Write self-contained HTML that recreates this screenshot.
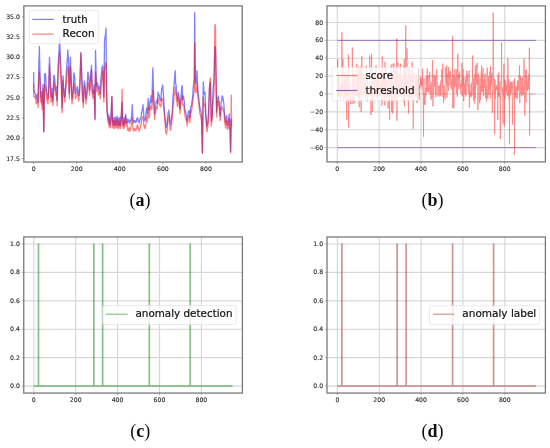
<!DOCTYPE html>
<html><head><meta charset="utf-8"><style>
html,body{margin:0;padding:0;background:#fff;width:550px;height:448px;overflow:hidden}
svg{display:block}
.tk{font-family:"DejaVu Sans","Liberation Sans",sans-serif;font-size:6.2px;fill:#1e1e1e;stroke:#1e1e1e;stroke-width:0.12px}
.lg{font-family:"DejaVu Sans","Liberation Sans",sans-serif;fill:#111;stroke:#111;stroke-width:0.2px}
.cap{font-family:"Liberation Serif","DejaVu Serif",serif;font-size:18px;fill:#111}
</style></head><body>
<svg width="550" height="448" viewBox="0 0 550 448">
<rect width="550" height="448" fill="#fff"/>
<g style="filter:opacity(0.5)"><polyline points="33.60,72.10 33.70,77.72 33.80,85.39 33.90,91.80 34.40,91.93 34.90,93.37 35.40,93.60 35.70,95.82 36.00,95.57 36.30,98.90 36.70,95.38 37.10,96.58 37.50,93.60 37.67,95.70 37.83,98.58 38.00,102.50 38.30,88.80 38.60,75.10 38.90,61.40 39.07,58.18 39.23,51.29 39.40,46.40 39.53,54.41 39.67,59.91 39.80,66.80 40.10,76.90 40.40,87.00 40.70,97.10 41.00,95.83 41.30,92.31 41.60,91.80 41.77,96.45 41.93,101.46 42.10,104.30 42.37,97.82 42.63,92.04 42.90,84.60 43.20,100.33 43.50,116.07 43.80,131.80 44.07,112.50 44.33,93.20 44.60,73.90 44.97,75.12 45.33,73.53 45.70,75.70 45.93,82.00 46.17,86.76 46.40,91.80 46.90,93.45 47.40,94.84 47.90,98.90 48.18,96.05 48.47,90.47 48.75,86.40 49.00,76.70 49.25,67.00 49.50,57.30 49.73,64.22 49.97,70.93 50.20,75.70 50.50,83.60 50.80,91.48 51.10,97.10 51.33,93.76 51.57,92.25 51.80,88.20 52.17,92.17 52.53,98.10 52.90,100.70 53.18,92.37 53.47,84.03 53.75,75.70 54.00,77.66 54.25,75.45 54.50,77.50 54.80,80.36 55.10,84.81 55.40,90.00 55.68,90.48 55.97,87.37 56.25,86.40 56.53,91.62 56.82,95.22 57.10,100.70 57.47,89.40 57.83,78.10 58.20,66.80 58.67,57.03 59.13,47.27 59.60,37.50 59.87,44.33 60.13,50.69 60.40,57.90 60.68,63.30 60.97,70.07 61.25,75.70 61.53,86.43 61.82,97.17 62.10,107.90 62.40,97.17 62.70,86.43 63.00,75.70 63.30,80.77 63.60,86.69 63.90,90.00 64.20,93.02 64.50,96.28 64.80,97.10 65.10,94.22 65.40,90.53 65.70,84.60 66.00,79.88 66.30,72.72 66.60,68.60 67.00,63.70 67.40,57.87 67.80,50.00 68.00,54.09 68.20,55.52 68.40,57.90 68.70,69.80 69.00,81.70 69.30,93.60 69.67,81.50 70.03,69.40 70.40,57.30 70.63,64.20 70.87,68.53 71.10,75.70 71.40,84.63 71.70,91.43 72.00,98.90 72.30,96.36 72.60,93.80 72.90,93.60 73.18,88.31 73.47,82.23 73.75,73.90 74.03,73.02 74.32,76.18 74.60,75.70 74.90,81.34 75.20,86.38 75.50,93.60 76.10,90.46 76.70,89.77 77.30,86.40 77.60,90.14 77.90,89.56 78.20,93.60 78.43,94.61 78.67,93.16 78.90,95.40 79.20,92.59 79.50,87.59 79.80,84.60 80.17,73.87 80.53,63.13 80.90,52.40 81.13,58.57 81.37,63.73 81.60,66.80 81.90,75.73 82.20,84.67 82.50,93.60 82.80,96.59 83.10,101.33 83.40,102.50 83.68,94.65 83.97,86.64 84.25,81.00 84.53,83.16 84.82,82.91 85.10,86.40 85.40,89.51 85.70,94.47 86.00,99.00 86.30,97.00 86.60,92.96 86.90,91.80 87.20,83.59 87.50,79.99 87.80,72.10 88.10,72.63 88.40,76.15 88.70,75.70 89.00,81.89 89.30,84.79 89.60,90.00 89.90,85.09 90.20,80.54 90.50,75.70 90.83,72.82 91.17,69.24 91.50,65.50 91.77,73.88 92.03,82.27 92.30,90.00 92.60,92.79 92.90,92.43 93.20,93.60 93.50,90.35 93.80,88.39 94.10,84.60 94.40,96.33 94.70,108.07 95.00,119.80 95.17,96.70 95.33,73.60 95.50,50.50 95.73,58.90 95.97,67.30 96.20,75.70 96.38,78.32 96.57,82.12 96.75,86.40 97.03,86.95 97.32,84.14 97.60,82.90 97.90,85.44 98.20,85.87 98.50,90.00 98.80,88.49 99.10,87.89 99.40,86.40 99.70,87.07 100.00,91.62 100.30,93.60 100.60,88.11 100.90,80.08 101.20,75.70 101.50,73.19 101.80,69.65 102.10,66.80 102.30,67.31 102.50,66.00 102.70,66.40 102.80,70.25 102.90,73.46 103.00,75.70 103.30,81.11 103.60,88.38 103.90,97.10 104.10,78.40 104.30,59.70 104.50,41.00 105.00,37.37 105.50,34.13 106.00,28.20 106.10,39.87 106.20,51.53 106.30,63.20 106.40,70.04 106.50,78.51 106.60,86.40 106.80,94.93 107.00,103.47 107.20,112.00 107.30,112.67 107.40,112.02 107.50,113.00 107.70,114.84 107.90,116.99 108.10,120.00 108.27,117.70 108.43,116.68 108.60,114.50 108.80,116.95 109.00,120.39 109.20,124.00 109.40,122.65 109.60,117.63 109.80,117.00 110.00,119.92 110.20,123.18 110.40,125.00 110.60,121.15 110.80,117.67 111.00,115.50 111.30,110.33 111.60,102.03 111.90,96.70 112.07,103.01 112.23,111.33 112.40,119.00 112.60,121.71 112.80,121.57 113.00,125.00 113.23,121.86 113.47,119.40 113.70,117.50 113.90,121.37 114.10,122.61 114.30,125.50 114.50,124.28 114.70,119.31 114.90,118.00 115.13,119.75 115.37,123.21 115.60,125.00 115.80,123.55 116.00,119.16 116.20,116.50 116.40,118.01 116.60,120.14 116.80,124.00 117.03,121.77 117.27,118.22 117.50,117.00 117.70,121.10 117.90,124.22 118.10,126.00 118.30,122.36 118.50,120.20 118.70,118.50 118.90,121.77 119.10,123.34 119.30,125.00 119.53,123.44 119.77,119.11 120.00,117.00 120.20,118.50 120.40,121.92 120.60,125.50 120.83,123.06 121.07,117.68 121.30,115.00 121.57,110.18 121.83,106.17 122.10,102.20 122.27,107.84 122.43,113.74 122.60,120.00 122.80,123.35 123.00,122.43 123.20,125.50 123.43,121.22 123.67,122.10 123.90,118.00 124.10,121.70 124.30,124.42 124.50,125.00 124.70,122.10 124.90,121.29 125.10,117.00 125.33,117.71 125.57,114.33 125.80,114.50 126.00,118.22 126.20,121.38 126.40,123.00 126.57,122.25 126.73,120.40 126.90,119.00 127.20,119.41 127.50,120.76 127.80,122.50 128.10,120.92 128.40,119.75 128.70,120.70 129.00,121.62 129.30,121.13 129.60,122.50 129.90,123.32 130.20,120.26 130.50,121.60 130.80,121.55 131.10,119.30 131.40,117.10 131.68,114.46 131.97,110.19 132.25,104.60 132.53,111.41 132.82,115.61 133.10,120.70 133.40,119.55 133.70,122.78 134.00,122.50 134.30,120.72 134.60,120.58 134.90,120.70 135.20,121.89 135.50,121.99 135.80,122.50 136.10,121.02 136.40,121.75 136.70,119.00 137.00,119.07 137.30,117.76 137.60,118.00 137.90,118.01 138.20,121.10 138.50,120.70 138.80,121.22 139.10,122.92 139.40,122.50 139.70,120.80 140.00,119.08 140.30,119.00 140.60,117.92 140.90,117.74 141.20,115.40 141.50,112.42 141.80,112.85 142.10,110.00 142.40,109.72 142.70,107.50 143.00,104.60 143.30,109.93 143.60,111.16 143.90,117.10 144.18,118.76 144.47,120.81 144.75,120.70 145.03,118.51 145.32,118.74 145.60,119.00 145.90,114.57 146.20,111.90 146.50,108.20 146.80,109.72 147.10,111.70 147.40,113.60 147.70,109.53 148.00,101.67 148.30,98.40 148.60,100.66 148.90,104.79 149.20,110.00 149.50,106.28 149.80,103.71 150.10,102.90 150.40,102.21 150.70,99.38 151.00,95.70 151.30,96.61 151.60,100.51 151.90,102.90 152.20,91.27 152.50,79.63 152.80,68.00 153.10,77.23 153.40,86.47 153.70,95.70 154.00,101.00 154.30,106.97 154.60,113.60 154.90,110.66 155.20,109.33 155.50,106.40 155.80,104.95 156.10,102.37 156.40,101.10 156.68,100.59 156.97,101.68 157.25,102.90 157.53,97.95 157.82,95.90 158.10,92.10 158.40,94.08 158.70,94.07 159.00,95.70 159.30,95.39 159.60,96.94 159.90,99.30 160.20,99.44 160.50,100.88 160.80,101.10 161.10,97.95 161.40,92.34 161.70,88.60 162.00,88.48 162.30,86.64 162.60,85.00 162.90,88.32 163.20,91.67 163.50,95.70 163.80,100.45 164.10,105.96 164.40,110.00 164.70,113.28 165.00,117.83 165.30,120.70 165.60,122.96 165.90,124.58 166.20,127.90 166.50,126.83 166.80,126.20 167.10,124.30 167.40,119.19 167.70,116.90 168.00,113.60 168.30,112.13 168.60,112.57 168.90,110.00 169.18,114.54 169.47,115.48 169.75,118.90 170.03,122.13 170.32,123.55 170.60,124.30 170.90,121.64 171.20,120.57 171.50,118.90 171.80,114.58 172.10,114.09 172.40,110.00 172.57,106.55 172.73,103.33 172.90,97.90 173.20,95.35 173.50,91.30 173.80,87.10 174.27,82.47 174.73,76.40 175.20,70.70 175.33,73.54 175.47,79.55 175.60,83.50 175.90,84.12 176.20,87.02 176.50,90.70 176.80,95.25 177.10,96.19 177.40,101.40 177.68,96.96 177.97,94.02 178.25,92.50 178.53,95.67 178.82,94.94 179.10,97.90 179.40,99.75 179.70,106.26 180.00,108.60 180.30,103.67 180.60,102.70 180.90,97.90 181.20,94.64 181.50,91.34 181.80,86.25 181.93,87.76 182.07,86.30 182.20,85.90 182.37,91.54 182.53,93.36 182.70,99.60 183.00,99.36 183.30,97.24 183.60,96.00 183.90,99.77 184.20,100.58 184.50,105.00 184.80,108.26 185.10,111.30 185.40,112.10 185.70,111.72 186.00,113.87 186.30,115.70 186.60,117.70 186.90,120.41 187.20,121.00 187.50,117.70 187.80,115.11 188.10,113.90 188.40,111.83 188.70,111.98 189.00,110.40 189.30,113.68 189.60,114.75 189.90,117.50 190.18,113.46 190.47,109.99 190.75,106.80 191.03,105.96 191.32,105.91 191.60,105.90 191.90,101.73 192.20,100.57 192.50,97.90 192.80,95.44 193.10,89.25 193.40,85.40 193.70,84.49 194.00,80.58 194.30,80.00 194.43,57.57 194.57,35.13 194.70,12.70 194.83,28.47 194.97,44.23 195.10,60.00 195.27,68.02 195.43,75.59 195.60,82.00 195.77,83.16 195.93,83.13 196.10,83.60 196.40,79.24 196.70,75.51 197.00,70.70 197.30,78.80 197.60,82.77 197.90,90.70 198.20,91.65 198.50,96.39 198.80,97.90 199.10,102.37 199.40,103.90 199.70,106.80 200.00,107.79 200.30,109.99 200.60,110.40 200.90,111.04 201.20,113.10 201.50,115.70 201.80,128.20 202.10,140.70 202.40,153.20 202.68,129.40 202.97,105.60 203.25,81.80 203.53,84.88 203.82,90.44 204.10,94.30 204.40,93.03 204.70,92.14 205.00,92.50 205.33,100.92 205.67,109.60 206.00,115.70 206.27,118.53 206.53,123.57 206.80,126.40 207.10,124.92 207.40,125.34 207.70,122.90 208.00,119.60 208.30,114.86 208.60,112.10 208.90,103.35 209.20,94.92 209.50,88.90 209.80,86.46 210.10,83.74 210.40,81.80 210.70,94.87 211.00,107.93 211.30,121.00 211.60,118.05 211.90,116.96 212.20,115.70 212.50,106.77 212.80,97.83 213.10,88.90 213.40,85.29 213.70,83.95 214.00,80.00 214.30,68.87 214.60,57.73 214.90,46.60 215.10,46.45 215.30,50.64 215.50,50.00 215.87,70.70 216.23,91.40 216.60,112.10 216.90,107.29 217.20,102.99 217.50,97.90 217.80,97.15 218.10,97.84 218.40,96.00 218.70,99.56 219.00,101.01 219.30,103.20 219.60,107.30 219.90,112.33 220.20,115.70 220.50,112.82 220.80,107.01 221.10,103.20 221.40,101.64 221.70,100.06 222.00,96.00 222.30,96.52 222.60,96.29 222.90,97.90 223.20,98.71 223.50,102.22 223.80,103.20 224.10,108.00 224.40,113.18 224.70,115.70 225.00,119.37 225.30,119.57 225.60,122.90 225.90,119.38 226.20,117.23 226.50,115.70 226.80,117.54 227.10,122.37 227.40,124.60 227.68,125.32 227.97,124.91 228.25,122.90 228.53,119.02 228.82,118.21 229.10,113.90 229.40,117.39 229.70,121.96 230.00,126.40 230.20,134.73 230.40,143.07 230.60,151.40 230.83,140.93 231.07,130.47 231.30,120.00 231.40,121.16 231.50,119.18 231.60,121.00" fill="none" stroke="#0000ff" stroke-width="1.3" stroke-linejoin="round"/></g>
<g style="filter:opacity(0.5)"><polyline points="33.60,83.55 33.70,87.02 33.80,90.95 33.90,96.80 34.40,97.03 34.90,96.76 35.40,98.60 35.70,98.81 36.00,101.78 36.30,103.90 36.70,103.64 37.10,101.45 37.50,98.60 37.67,102.52 37.83,103.53 38.00,107.50 38.30,97.02 38.60,86.54 38.90,76.06 39.07,74.87 39.23,72.62 39.40,72.10 39.53,73.85 39.67,76.54 39.80,80.89 40.10,86.93 40.40,96.57 40.70,102.10 41.00,101.52 41.30,99.67 41.60,96.80 41.77,102.05 41.93,104.03 42.10,109.30 42.37,102.05 42.63,96.62 42.90,89.60 43.20,103.67 43.50,117.73 43.80,131.80 44.07,115.96 44.33,100.11 44.60,84.27 44.97,86.05 45.33,87.45 45.70,87.12 45.93,91.71 46.17,92.09 46.40,96.80 46.90,99.55 47.40,102.15 47.90,103.90 48.18,99.75 48.47,94.41 48.75,91.40 49.00,82.60 49.25,73.80 49.50,65.00 49.73,71.57 49.97,76.85 50.20,84.99 50.50,92.26 50.80,97.71 51.10,102.10 51.33,99.30 51.57,95.45 51.80,93.20 52.17,98.84 52.53,101.79 52.90,105.70 53.18,99.99 53.47,92.79 53.75,84.45 54.00,83.83 54.25,82.84 54.50,82.50 54.80,87.02 55.10,90.59 55.40,95.00 55.68,92.58 55.97,91.90 56.25,91.40 56.53,97.29 56.82,99.29 57.10,105.70 57.47,93.80 57.83,81.90 58.20,70.00 58.67,62.60 59.13,58.92 59.60,52.70 59.87,58.52 60.13,66.04 60.40,72.53 60.68,76.58 60.97,80.27 61.25,84.99 61.53,94.29 61.82,103.60 62.10,112.90 62.40,102.17 62.70,91.43 63.00,80.70 63.30,87.26 63.60,89.14 63.90,95.00 64.20,97.05 64.50,98.66 64.80,102.10 65.10,98.41 65.40,92.96 65.70,89.60 66.00,85.89 66.30,84.10 66.60,80.02 67.00,74.97 67.40,71.42 67.80,66.80 68.00,70.17 68.20,69.18 68.40,72.53 68.70,81.22 69.00,89.91 69.30,98.60 69.67,87.73 70.03,76.87 70.40,66.00 70.63,69.32 70.87,74.82 71.10,80.70 71.40,89.39 71.70,96.58 72.00,103.90 72.30,101.19 72.60,99.76 72.90,98.60 73.18,92.84 73.47,89.26 73.75,84.81 74.03,83.58 74.32,86.36 74.60,86.07 74.90,91.67 75.20,96.06 75.50,98.60 76.10,97.05 76.70,95.46 77.30,91.40 77.60,92.07 77.90,95.44 78.20,98.60 78.43,100.88 78.67,100.79 78.90,100.40 79.20,96.48 79.50,94.80 79.80,89.60 80.17,77.60 80.53,65.60 80.90,53.60 81.13,62.35 81.37,71.09 81.60,79.84 81.90,86.53 82.20,93.49 82.50,98.60 82.80,100.82 83.10,103.42 83.40,107.50 83.68,100.13 83.97,91.86 84.25,86.00 84.53,87.37 84.82,91.26 85.10,91.40 85.40,94.99 85.70,98.03 86.00,104.00 86.30,99.96 86.60,98.01 86.90,96.80 87.20,93.22 87.50,87.11 87.80,83.01 88.10,82.92 88.40,82.88 88.70,84.99 89.00,90.06 89.30,91.39 89.60,95.00 89.90,90.61 90.20,86.74 90.50,84.99 90.83,78.39 91.17,73.80 91.50,70.00 91.77,78.33 92.03,86.67 92.30,95.00 92.60,96.84 92.90,96.14 93.20,98.60 93.50,93.95 93.80,92.57 94.10,89.60 94.40,99.27 94.70,108.93 95.00,118.60 95.17,103.10 95.33,87.60 95.50,72.10 95.73,75.49 95.97,82.48 96.20,84.99 96.38,85.77 96.57,89.37 96.75,91.40 97.03,91.22 97.32,88.74 97.60,87.90 97.90,92.02 98.20,92.55 98.50,95.00 98.80,92.87 99.10,92.28 99.40,91.40 99.70,92.13 100.00,95.92 100.30,98.60 100.60,91.73 100.90,88.07 101.20,80.70 101.50,80.89 101.80,78.68 102.10,77.68 102.30,74.10 102.50,73.01 102.70,72.00 102.80,73.97 102.90,76.75 103.00,80.70 103.30,86.87 103.60,96.30 103.90,102.10 104.10,91.40 104.30,80.70 104.50,70.00 105.00,66.28 105.50,63.52 106.00,62.70 106.10,70.95 106.20,76.36 106.30,82.84 106.40,90.12 106.50,93.52 106.60,99.38 106.80,106.03 107.00,110.35 107.20,115.00 107.30,116.38 107.40,116.55 107.50,116.00 107.70,118.31 107.90,119.20 108.10,123.00 108.27,120.13 108.43,120.68 108.60,117.50 108.80,122.11 109.00,125.36 109.20,127.00 109.40,124.08 109.60,122.90 109.80,120.00 110.00,123.74 110.20,125.85 110.40,128.00 110.60,125.97 110.80,121.77 111.00,118.50 111.30,111.79 111.60,104.64 111.90,96.70 112.07,105.13 112.23,113.57 112.40,122.00 112.60,123.17 112.80,127.52 113.00,128.00 113.23,127.14 113.47,121.47 113.70,120.50 113.90,124.86 114.10,127.50 114.30,128.50 114.50,126.61 114.70,121.86 114.90,121.00 115.13,124.77 115.37,124.33 115.60,128.00 115.80,126.85 116.00,122.94 116.20,119.50 116.40,120.42 116.60,123.30 116.80,127.00 117.03,125.15 117.27,122.58 117.50,120.00 117.70,123.89 117.90,127.54 118.10,129.00 118.30,125.49 118.50,122.21 118.70,121.50 118.90,125.19 119.10,124.08 119.30,128.00 119.53,126.69 119.77,121.28 120.00,120.00 120.20,123.95 120.40,126.69 120.60,128.50 120.83,126.36 121.07,121.68 121.30,118.00 121.57,108.43 121.83,98.87 122.10,89.30 122.27,100.53 122.43,111.77 122.60,123.00 122.80,126.20 123.00,125.59 123.20,128.50 123.43,126.62 123.67,122.89 123.90,121.00 124.10,124.74 124.30,126.65 124.50,128.00 124.70,125.23 124.90,122.76 125.10,120.00 125.33,117.46 125.57,116.66 125.80,117.50 126.00,120.67 126.20,123.13 126.40,126.00 126.57,125.98 126.73,123.72 126.90,122.00 127.20,123.53 127.50,127.17 127.80,130.50 128.10,130.86 128.40,129.38 128.70,128.70 129.00,127.54 129.30,131.12 129.60,130.50 129.90,131.38 130.20,128.41 130.50,129.60 130.80,128.26 131.10,126.17 131.40,125.10 131.68,123.67 131.97,119.49 132.25,117.70 132.53,120.41 132.82,124.99 133.10,128.70 133.40,130.98 133.70,128.44 134.00,130.50 134.30,128.51 134.60,129.74 134.90,128.70 135.20,130.69 135.50,129.94 135.80,130.50 136.10,129.10 136.40,129.45 136.70,127.00 137.00,127.66 137.30,124.77 137.60,126.00 137.90,128.27 138.20,126.71 138.50,128.70 138.80,128.59 139.10,131.11 139.40,130.50 139.70,129.05 140.00,129.24 140.30,127.00 140.60,124.60 140.90,125.95 141.20,123.40 141.50,120.43 141.80,118.54 142.10,118.00 142.40,117.62 142.70,116.70 143.00,116.92 143.30,119.80 143.60,123.83 143.90,125.10 144.18,127.06 144.47,125.72 144.75,128.70 145.03,127.46 145.32,127.73 145.60,127.00 145.90,123.35 146.20,120.58 146.50,116.20 146.80,117.94 147.10,118.27 147.40,121.60 147.70,115.62 148.00,112.72 148.30,106.40 148.60,109.75 148.90,115.09 149.20,118.00 149.50,116.72 149.80,112.39 150.10,108.90 150.40,108.39 150.70,106.99 151.00,105.45 151.30,105.93 151.60,109.24 151.90,108.90 152.20,102.61 152.50,98.05 152.80,90.40 153.10,93.47 153.40,99.26 153.70,101.70 154.00,108.70 154.30,114.04 154.60,119.60 154.90,116.99 155.20,113.51 155.50,112.40 155.80,111.61 156.10,108.37 156.40,107.10 156.68,108.28 156.97,106.98 157.25,108.90 157.53,103.80 157.82,100.42 158.10,98.10 158.40,100.41 158.70,99.34 159.00,101.70 159.30,104.35 159.60,103.64 159.90,105.30 160.20,106.17 160.50,105.96 160.80,107.10 161.10,104.80 161.40,100.16 161.70,98.89 162.00,98.41 162.30,100.20 162.60,98.50 162.90,99.84 163.20,104.05 163.50,105.99 163.80,108.70 164.10,111.95 164.40,116.00 164.70,117.85 165.00,121.41 165.30,126.70 165.60,130.72 165.90,132.69 166.20,133.90 166.50,133.78 166.80,132.61 167.10,130.30 167.40,128.37 167.70,121.94 168.00,119.60 168.30,118.70 168.60,117.18 168.90,116.00 169.18,119.23 169.47,123.51 169.75,124.90 170.03,127.64 170.32,130.19 170.60,130.30 170.90,127.12 171.20,127.25 171.50,124.90 171.80,122.56 172.10,119.85 172.40,116.00 172.57,113.60 172.73,111.55 172.90,107.53 173.20,104.30 173.50,104.03 173.80,99.97 174.27,95.33 174.73,91.73 175.20,87.07 175.33,90.77 175.47,92.34 175.60,93.87 175.90,93.79 176.20,94.12 176.50,95.70 176.80,98.64 177.10,103.29 177.40,106.40 177.68,105.22 177.97,101.90 178.25,97.50 178.53,98.94 178.82,100.74 179.10,102.90 179.40,107.61 179.70,109.25 180.00,113.60 180.30,109.71 180.60,104.71 180.90,102.90 181.20,99.39 181.50,98.31 181.80,95.80 181.93,96.77 182.07,96.76 182.20,96.63 182.37,98.80 182.53,103.57 182.70,104.60 183.00,105.28 183.30,103.84 183.60,105.32 183.90,105.32 184.20,110.15 184.50,110.00 184.80,114.12 185.10,116.25 185.40,117.10 185.70,118.67 186.00,118.82 186.30,120.70 186.60,121.00 186.90,123.36 187.20,126.00 187.50,122.63 187.80,122.81 188.10,118.90 188.40,119.15 188.70,117.57 189.00,115.40 189.30,116.50 189.60,119.19 189.90,122.50 190.18,118.21 190.47,116.98 190.75,111.80 191.03,110.29 191.32,112.25 191.60,110.90 191.90,108.88 192.20,105.74 192.50,102.90 192.80,102.44 193.10,97.81 193.40,96.55 193.70,94.58 194.00,91.20 194.30,90.37 194.43,74.58 194.57,58.79 194.70,43.00 194.83,54.12 194.97,65.25 195.10,76.37 195.27,80.05 195.43,84.95 195.60,91.77 195.77,91.48 195.93,91.16 196.10,92.89 196.40,88.30 196.70,88.64 197.00,83.86 197.30,87.05 197.60,93.16 197.90,95.70 198.20,98.83 198.50,101.33 198.80,102.90 199.10,106.43 199.40,110.46 199.70,111.80 200.00,114.36 200.30,114.99 200.60,115.40 200.90,117.38 201.20,119.63 201.50,120.70 201.80,131.53 202.10,142.37 202.40,153.20 202.68,134.46 202.97,115.71 203.25,96.97 203.53,100.69 203.82,102.99 204.10,105.72 204.40,105.31 204.70,103.64 205.00,104.46 205.33,111.11 205.67,115.23 206.00,120.70 206.27,122.71 206.53,126.64 206.80,131.40 207.10,131.58 207.40,128.19 207.70,127.90 208.00,123.91 208.30,121.36 208.60,117.10 208.90,106.07 209.20,95.03 209.50,84.00 209.80,83.27 210.10,79.32 210.40,77.90 210.70,93.93 211.00,109.97 211.30,126.00 211.60,123.83 211.90,122.19 212.20,120.70 212.50,112.39 212.80,108.83 213.10,100.86 213.40,96.16 213.70,96.58 214.00,91.96 214.30,69.87 214.60,47.79 214.90,25.70 215.10,24.72 215.30,25.00 215.50,26.50 215.87,56.70 216.23,86.90 216.60,117.10 216.90,113.62 217.20,108.80 217.50,102.90 217.80,101.30 218.10,101.83 218.40,101.00 218.70,103.32 219.00,106.59 219.30,108.20 219.60,111.23 219.90,117.71 220.20,120.70 220.50,118.32 220.80,113.11 221.10,108.20 221.40,109.29 221.70,108.91 222.00,106.91 222.30,106.92 222.60,109.05 222.90,108.24 223.20,110.68 223.50,111.03 223.80,111.95 224.10,113.45 224.40,118.21 224.70,120.70 225.00,124.58 225.30,124.80 225.60,127.90 225.90,126.03 226.20,124.53 226.50,120.70 226.80,124.03 227.10,124.97 227.40,129.60 227.68,129.51 227.97,127.59 228.25,127.90 228.53,126.19 228.82,122.48 229.10,118.90 229.40,122.37 229.70,128.66 230.00,131.40 230.20,139.12 230.40,145.35 230.60,153.20 230.83,133.87 231.07,114.53 231.30,95.20 231.40,105.47 231.50,115.73 231.60,126.00" fill="none" stroke="#ff0000" stroke-width="1.3" stroke-linejoin="round"/></g>
<rect x="23.85" y="5.90" width="218.35" height="156.10" fill="none" stroke="#7a7a7a" stroke-width="1.3"/>
<line x1="33.60" y1="162.00" x2="33.60" y2="164.00" stroke="#7a7a7a" stroke-width="0.6"/>
<text x="33.60" y="170.80" text-anchor="middle" class="tk">0</text>
<line x1="76.70" y1="162.00" x2="76.70" y2="164.00" stroke="#7a7a7a" stroke-width="0.6"/>
<text x="76.70" y="170.80" text-anchor="middle" class="tk">200</text>
<line x1="119.80" y1="162.00" x2="119.80" y2="164.00" stroke="#7a7a7a" stroke-width="0.6"/>
<text x="119.80" y="170.80" text-anchor="middle" class="tk">400</text>
<line x1="162.90" y1="162.00" x2="162.90" y2="164.00" stroke="#7a7a7a" stroke-width="0.6"/>
<text x="162.90" y="170.80" text-anchor="middle" class="tk">600</text>
<line x1="206.00" y1="162.00" x2="206.00" y2="164.00" stroke="#7a7a7a" stroke-width="0.6"/>
<text x="206.00" y="170.80" text-anchor="middle" class="tk">800</text>
<line x1="21.85" y1="158.58" x2="23.85" y2="158.58" stroke="#7a7a7a" stroke-width="0.6"/>
<text x="19.95" y="160.58" text-anchor="end" class="tk">17.5</text>
<line x1="21.85" y1="138.30" x2="23.85" y2="138.30" stroke="#7a7a7a" stroke-width="0.6"/>
<text x="19.95" y="140.30" text-anchor="end" class="tk">20.0</text>
<line x1="21.85" y1="118.02" x2="23.85" y2="118.02" stroke="#7a7a7a" stroke-width="0.6"/>
<text x="19.95" y="120.02" text-anchor="end" class="tk">22.5</text>
<line x1="21.85" y1="97.74" x2="23.85" y2="97.74" stroke="#7a7a7a" stroke-width="0.6"/>
<text x="19.95" y="99.74" text-anchor="end" class="tk">25.0</text>
<line x1="21.85" y1="77.46" x2="23.85" y2="77.46" stroke="#7a7a7a" stroke-width="0.6"/>
<text x="19.95" y="79.46" text-anchor="end" class="tk">27.5</text>
<line x1="21.85" y1="57.18" x2="23.85" y2="57.18" stroke="#7a7a7a" stroke-width="0.6"/>
<text x="19.95" y="59.18" text-anchor="end" class="tk">30.0</text>
<line x1="21.85" y1="36.90" x2="23.85" y2="36.90" stroke="#7a7a7a" stroke-width="0.6"/>
<text x="19.95" y="38.90" text-anchor="end" class="tk">32.5</text>
<line x1="21.85" y1="16.62" x2="23.85" y2="16.62" stroke="#7a7a7a" stroke-width="0.6"/>
<text x="19.95" y="18.62" text-anchor="end" class="tk">35.0</text>
<rect x="29.20" y="10.30" width="69.00" height="33.30" rx="1.5" fill="#ffffff" fill-opacity="0.8" stroke="#dcdcdc" stroke-width="0.6"/>
<line x1="32.30" y1="19.40" x2="53.80" y2="19.40" stroke="#0000ff" stroke-opacity="0.5" stroke-width="1.2"/>
<text x="62.60" y="22.50" class="lg" style="font-size:10.1px" textLength="25.00" lengthAdjust="spacingAndGlyphs">truth</text>
<line x1="32.30" y1="34.10" x2="53.80" y2="34.10" stroke="#ff0000" stroke-opacity="0.5" stroke-width="1.2"/>
<text x="62.60" y="37.30" class="lg" style="font-size:10.1px" textLength="32.00" lengthAdjust="spacingAndGlyphs">Recon</text>
<line x1="337.30" y1="5.90" x2="337.30" y2="161.90" stroke="#d6d6d6" stroke-width="1.15"/>
<line x1="379.15" y1="5.90" x2="379.15" y2="161.90" stroke="#d6d6d6" stroke-width="1.15"/>
<line x1="421.00" y1="5.90" x2="421.00" y2="161.90" stroke="#d6d6d6" stroke-width="1.15"/>
<line x1="462.85" y1="5.90" x2="462.85" y2="161.90" stroke="#d6d6d6" stroke-width="1.15"/>
<line x1="504.70" y1="5.90" x2="504.70" y2="161.90" stroke="#d6d6d6" stroke-width="1.15"/>
<line x1="327.00" y1="147.61" x2="545.40" y2="147.61" stroke="#d6d6d6" stroke-width="1.15"/>
<line x1="327.00" y1="129.74" x2="545.40" y2="129.74" stroke="#d6d6d6" stroke-width="1.15"/>
<line x1="327.00" y1="111.87" x2="545.40" y2="111.87" stroke="#d6d6d6" stroke-width="1.15"/>
<line x1="327.00" y1="94.00" x2="545.40" y2="94.00" stroke="#d6d6d6" stroke-width="1.15"/>
<line x1="327.00" y1="76.13" x2="545.40" y2="76.13" stroke="#d6d6d6" stroke-width="1.15"/>
<line x1="327.00" y1="58.26" x2="545.40" y2="58.26" stroke="#d6d6d6" stroke-width="1.15"/>
<line x1="327.00" y1="40.39" x2="545.40" y2="40.39" stroke="#d6d6d6" stroke-width="1.15"/>
<line x1="327.00" y1="22.52" x2="545.40" y2="22.52" stroke="#d6d6d6" stroke-width="1.15"/>
<g style="filter:opacity(0.5)"><polyline points="337.30,96.50 337.51,92.45 337.72,59.10 337.93,93.95 338.14,94.47 338.35,96.93 338.56,76.27 338.76,95.98 338.97,73.68 339.18,85.49 339.39,77.25 339.60,99.83 339.81,96.73 340.02,91.74 340.23,93.42 340.44,86.01 340.65,92.65 340.86,96.10 341.07,84.83 341.28,93.39 341.49,87.57 341.69,95.44 341.90,32.30 342.11,75.23 342.32,87.83 342.53,76.23 342.74,77.76 342.95,59.10 343.16,92.80 343.37,96.79 343.58,99.57 343.79,81.25 344.00,84.22 344.21,92.81 344.41,79.76 344.62,92.56 344.83,72.70 345.04,99.88 345.25,79.66 345.46,94.27 345.67,96.74 345.88,92.08 346.09,95.80 346.30,75.31 346.51,94.36 346.72,119.70 346.93,93.67 347.13,94.61 347.34,75.04 347.55,75.76 347.76,95.92 347.97,94.11 348.18,88.37 348.39,54.60 348.60,127.50 348.81,68.05 349.02,80.76 349.23,92.84 349.44,94.57 349.65,94.38 349.86,85.44 350.06,93.04 350.27,97.09 350.48,96.41 350.69,104.00 350.90,96.49 351.11,94.97 351.32,91.32 351.53,90.81 351.74,95.09 351.95,91.37 352.16,92.29 352.37,47.50 352.58,96.84 352.78,95.68 352.99,104.00 353.20,90.78 353.41,90.86 353.62,93.42 353.83,73.02 354.04,95.47 354.25,94.95 354.46,103.00 354.67,77.29 354.88,95.98 355.09,92.37 355.30,94.29 355.50,95.00 355.71,93.87 355.92,93.38 356.13,95.58 356.34,92.62 356.55,71.52 356.76,63.79 356.97,72.70 357.18,95.95 357.39,96.11 357.60,74.69 357.81,97.79 358.02,76.85 358.23,92.85 358.43,66.73 358.64,97.81 358.85,91.93 359.06,91.85 359.27,107.20 359.48,73.70 359.69,90.35 359.90,96.49 360.11,66.39 360.32,91.67 360.53,68.52 360.74,82.23 360.95,97.47 361.15,111.90 361.36,73.98 361.57,75.31 361.78,56.40 361.99,95.48 362.20,93.38 362.41,94.58 362.62,91.07 362.83,84.18 363.04,74.61 363.25,74.32 363.46,82.60 363.67,93.60 363.87,90.07 364.08,91.86 364.29,94.19 364.50,82.07 364.71,93.87 364.92,77.18 365.13,93.57 365.34,95.59 365.55,97.49 365.76,77.70 365.97,71.58 366.18,65.40 366.39,79.15 366.60,82.56 366.80,73.81 367.01,75.20 367.22,74.21 367.43,73.77 367.64,101.46 367.85,94.41 368.06,95.85 368.27,92.79 368.48,93.32 368.69,92.46 368.90,90.93 369.11,92.56 369.32,90.77 369.52,83.55 369.73,55.50 369.94,94.49 370.15,86.73 370.36,95.30 370.57,93.58 370.78,84.55 370.99,115.00 371.20,83.02 371.41,90.53 371.62,53.75 371.83,95.68 372.04,92.01 372.24,96.65 372.45,111.90 372.66,100.16 372.87,91.00 373.08,78.98 373.29,97.16 373.50,84.88 373.71,90.87 373.92,76.81 374.13,91.45 374.34,91.41 374.55,86.73 374.76,74.13 374.97,96.65 375.17,88.89 375.38,96.42 375.59,96.13 375.80,95.39 376.01,65.40 376.22,90.19 376.43,97.44 376.64,97.46 376.85,82.18 377.06,94.18 377.27,76.40 377.48,98.30 377.69,76.10 377.89,83.13 378.10,72.93 378.31,91.62 378.52,80.36 378.73,86.55 378.94,96.65 379.15,92.28 379.36,96.41 379.57,91.56 379.78,95.75 379.99,95.84 380.20,94.29 380.41,94.39 380.61,90.70 380.82,70.10 381.03,90.67 381.24,95.03 381.45,94.85 381.66,83.22 381.87,105.60 382.08,95.69 382.29,56.40 382.50,97.41 382.71,95.91 382.92,82.65 383.13,95.88 383.34,75.15 383.54,87.01 383.75,75.78 383.96,80.21 384.17,91.60 384.38,96.21 384.59,76.58 384.80,105.60 385.01,61.80 385.22,94.07 385.43,74.85 385.64,79.13 385.85,97.35 386.06,95.00 386.26,91.60 386.47,80.54 386.68,79.40 386.89,93.93 387.10,94.91 387.31,82.52 387.52,92.58 387.73,88.59 387.94,95.68 388.15,108.75 388.36,73.08 388.57,85.80 388.78,79.34 388.98,96.32 389.19,92.34 389.40,95.76 389.61,119.70 389.82,93.73 390.03,95.65 390.24,79.16 390.45,87.76 390.66,84.04 390.87,91.46 391.08,100.80 391.29,64.53 391.50,94.29 391.71,111.80 391.91,88.24 392.12,90.81 392.33,93.42 392.54,93.83 392.75,113.40 392.96,97.48 393.17,63.60 393.38,91.16 393.59,93.47 393.80,63.60 394.01,87.52 394.22,95.12 394.43,91.57 394.63,92.21 394.84,101.65 395.05,67.72 395.26,73.77 395.47,85.57 395.68,69.49 395.89,84.82 396.10,97.23 396.31,91.61 396.52,90.89 396.73,38.60 396.94,120.70 397.15,73.50 397.35,94.23 397.56,74.41 397.77,70.07 397.98,62.70 398.19,84.33 398.40,96.02 398.61,97.22 398.82,76.10 399.03,86.63 399.24,92.29 399.45,74.20 399.66,87.55 399.87,85.54 400.07,96.42 400.28,91.10 400.49,89.28 400.70,63.67 400.91,91.01 401.12,96.93 401.33,96.92 401.54,95.73 401.75,74.97 401.96,85.15 402.17,82.76 402.38,86.75 402.59,95.59 402.80,76.12 403.00,80.50 403.21,100.62 403.42,95.80 403.63,84.44 403.84,65.78 404.05,102.70 404.26,59.10 404.47,106.40 404.68,94.00 404.89,74.13 405.10,93.76 405.31,74.36 405.52,96.47 405.72,25.20 405.93,67.60 406.14,77.60 406.35,82.17 406.56,91.98 406.77,91.00 406.98,48.40 407.19,95.77 407.40,79.02 407.61,97.07 407.82,81.50 408.03,89.21 408.24,93.78 408.44,113.60 408.65,68.70 408.86,97.84 409.07,95.81 409.28,67.84 409.49,97.42 409.70,79.54 409.91,88.48 410.12,74.16 410.33,97.33 410.54,94.57 410.75,89.75 410.96,95.01 411.17,89.60 411.37,73.46 411.58,100.46 411.79,92.14 412.00,90.77 412.21,61.80 412.42,94.59 412.63,73.65 412.84,94.76 413.05,90.61 413.26,128.75 413.47,94.76 413.68,93.46 413.89,72.61 414.09,73.21 414.30,90.88 414.51,93.32 414.72,85.88 414.93,86.89 415.14,97.55 415.35,95.06 415.56,76.15 415.77,74.95 415.98,76.38 416.19,98.30 416.40,94.19 416.61,74.28 416.81,94.97 417.02,102.61 417.23,76.59 417.44,102.50 417.65,97.13 417.86,74.24 418.07,74.73 418.28,95.63 418.49,69.10 418.70,92.45 418.91,95.60 419.12,92.17 419.33,99.49 419.54,90.67 419.74,84.87 419.95,88.72 420.16,84.83 420.37,77.33 420.58,85.05 420.79,80.30 421.00,76.91 421.21,84.56 421.42,80.57 421.63,84.94 421.84,85.68 422.05,80.62 422.26,85.42 422.46,68.90 422.67,88.82 422.88,92.24 423.09,94.79 423.30,94.07 423.51,136.80 423.72,95.87 423.93,77.95 424.14,97.18 424.35,104.49 424.56,103.58 424.77,93.94 424.98,104.87 425.19,99.23 425.39,91.59 425.60,89.47 425.81,87.71 426.02,95.30 426.23,75.93 426.44,82.69 426.65,86.71 426.86,92.05 427.07,76.44 427.28,68.40 427.49,91.61 427.70,77.10 427.91,81.15 428.11,75.05 428.32,86.28 428.53,90.64 428.74,92.89 428.95,87.74 429.16,88.64 429.37,78.13 429.58,71.49 429.79,72.09 430.00,83.30 430.21,94.15 430.42,84.47 430.63,91.17 430.83,89.80 431.04,99.85 431.25,81.73 431.46,91.68 431.67,91.91 431.88,98.16 432.09,95.35 432.30,90.51 432.51,60.00 432.72,75.37 432.93,106.40 433.14,97.16 433.35,96.04 433.56,84.15 433.76,76.46 433.97,74.15 434.18,80.36 434.39,81.05 434.60,84.25 434.81,86.77 435.02,75.92 435.23,94.56 435.44,76.42 435.65,86.01 435.86,97.16 436.07,95.70 436.28,95.41 436.48,76.61 436.69,69.54 436.90,69.19 437.11,77.03 437.32,80.94 437.53,84.81 437.74,92.89 437.95,93.67 438.16,96.25 438.37,88.42 438.58,86.55 438.79,85.85 439.00,92.20 439.20,92.85 439.41,85.30 439.62,86.80 439.83,96.66 440.04,90.52 440.25,91.74 440.46,93.54 440.67,82.63 440.88,95.69 441.09,79.86 441.30,83.08 441.51,82.26 441.72,69.27 441.93,85.62 442.13,85.61 442.34,88.91 442.55,73.98 442.76,63.60 442.97,97.07 443.18,89.39 443.39,93.66 443.60,102.90 443.81,86.82 444.02,85.35 444.23,89.53 444.44,92.68 444.65,94.82 444.85,93.11 445.06,99.27 445.27,67.42 445.48,74.48 445.69,74.94 445.90,79.48 446.11,80.83 446.32,83.47 446.53,81.07 446.74,65.40 446.95,97.70 447.16,78.73 447.37,73.48 447.57,85.81 447.78,84.76 447.99,82.52 448.20,88.23 448.41,91.01 448.62,67.10 448.83,78.96 449.04,77.96 449.25,71.48 449.46,80.05 449.67,80.12 449.88,85.39 450.09,82.74 450.30,79.51 450.50,70.91 450.71,72.85 450.92,84.75 451.13,88.53 451.34,79.13 451.55,85.13 451.76,82.79 451.97,81.18 452.18,90.26 452.39,80.82 452.60,35.90 452.81,108.20 453.02,84.97 453.22,85.48 453.43,74.30 453.64,79.98 453.85,108.40 454.06,76.67 454.27,80.66 454.48,77.56 454.69,87.54 454.90,68.88 455.11,75.57 455.32,81.72 455.53,85.52 455.74,77.65 455.94,81.84 456.15,82.98 456.36,93.40 456.57,91.45 456.78,69.19 456.99,88.34 457.20,92.82 457.41,96.80 457.62,83.81 457.83,53.75 458.04,80.46 458.25,74.33 458.46,80.13 458.67,89.10 458.87,86.47 459.08,82.27 459.29,73.68 459.50,78.79 459.71,71.40 459.92,82.30 460.13,87.65 460.34,89.56 460.55,87.34 460.76,83.75 460.97,94.03 461.18,84.04 461.39,85.12 461.59,86.58 461.80,78.40 462.01,62.70 462.22,96.27 462.43,80.97 462.64,78.00 462.85,83.59 463.06,69.28 463.27,85.58 463.48,76.50 463.69,101.25 463.90,89.93 464.11,88.99 464.31,83.80 464.52,91.55 464.73,94.30 464.94,86.53 465.15,76.70 465.36,83.99 465.57,93.89 465.78,80.23 465.99,96.49 466.20,86.74 466.41,83.66 466.62,81.22 466.83,70.60 467.03,78.14 467.24,82.53 467.45,73.73 467.66,75.95 467.87,86.12 468.08,83.62 468.29,93.74 468.50,92.73 468.71,89.55 468.92,80.08 469.13,70.70 469.34,107.50 469.55,92.43 469.76,84.50 469.96,90.02 470.17,96.10 470.38,93.50 470.59,96.93 470.80,97.37 471.01,91.11 471.22,95.74 471.43,83.07 471.64,88.58 471.85,96.51 472.06,82.31 472.27,83.12 472.48,78.62 472.68,55.50 472.89,85.82 473.10,93.08 473.31,86.07 473.52,100.40 473.73,77.67 473.94,97.74 474.15,84.58 474.36,95.62 474.57,103.54 474.78,91.48 474.99,74.09 475.20,98.12 475.40,65.40 475.61,88.66 475.82,79.71 476.03,72.87 476.24,84.89 476.45,77.01 476.66,64.73 476.87,66.61 477.08,62.88 477.29,73.85 477.50,84.95 477.71,78.89 477.92,110.20 478.13,81.55 478.33,73.53 478.54,77.16 478.75,76.09 478.96,90.56 479.17,100.14 479.38,99.37 479.59,102.66 479.80,103.38 480.01,77.61 480.22,100.08 480.43,85.58 480.64,94.15 480.85,89.90 481.05,85.06 481.26,70.89 481.47,87.44 481.68,65.40 481.89,91.82 482.10,73.77 482.31,78.05 482.52,91.89 482.73,80.26 482.94,76.02 483.15,68.26 483.36,95.90 483.57,84.36 483.77,79.30 483.98,82.24 484.19,87.93 484.40,82.41 484.61,79.23 484.82,81.00 485.03,73.53 485.24,94.16 485.45,80.87 485.66,97.72 485.87,89.44 486.08,85.77 486.29,100.06 486.50,101.41 486.70,82.78 486.91,71.42 487.12,67.47 487.33,68.53 487.54,73.75 487.75,98.94 487.96,88.90 488.17,88.75 488.38,88.99 488.59,76.57 488.80,95.00 489.01,83.22 489.22,88.92 489.42,86.59 489.63,75.54 489.84,71.48 490.05,80.28 490.26,98.25 490.47,66.25 490.68,87.30 490.89,84.21 491.10,82.14 491.31,77.06 491.52,76.96 491.73,83.90 491.94,72.47 492.14,91.62 492.35,112.90 492.56,90.24 492.77,88.65 492.98,83.60 493.19,12.70 493.40,73.49 493.61,79.51 493.82,78.36 494.03,93.13 494.24,79.75 494.45,78.96 494.66,134.30 494.87,86.20 495.07,79.95 495.28,99.26 495.49,87.80 495.70,90.90 495.91,86.42 496.12,85.93 496.33,89.05 496.54,86.33 496.75,86.61 496.96,90.12 497.17,84.72 497.38,91.48 497.59,88.83 497.79,120.00 498.00,74.43 498.21,92.76 498.42,96.88 498.63,72.50 498.84,83.72 499.05,84.07 499.26,97.18 499.47,93.69 499.68,90.86 499.89,81.00 500.10,95.82 500.31,138.90 500.51,97.24 500.72,99.93 500.93,91.54 501.14,86.32 501.35,85.77 501.56,42.30 501.77,86.42 501.98,89.14 502.19,92.41 502.40,88.34 502.61,87.87 502.82,87.31 503.03,123.60 503.24,88.53 503.44,95.61 503.65,75.90 503.86,63.60 504.07,78.45 504.28,126.40 504.49,79.58 504.70,83.14 504.91,94.00 505.12,98.74 505.33,88.87 505.54,80.57 505.75,85.22 505.96,90.75 506.16,84.88 506.37,91.49 506.58,91.80 506.79,93.59 507.00,89.91 507.21,78.15 507.42,76.03 507.63,96.12 507.84,58.40 508.05,74.45 508.26,86.03 508.47,89.98 508.68,95.26 508.88,79.39 509.09,99.87 509.30,84.75 509.51,144.30 509.72,98.65 509.93,89.34 510.14,87.10 510.35,95.38 510.56,81.73 510.77,87.22 510.98,93.36 511.19,93.23 511.40,81.92 511.61,89.02 511.81,86.13 512.02,89.48 512.23,81.60 512.44,124.60 512.65,101.15 512.86,101.03 513.07,95.52 513.28,93.38 513.49,93.57 513.70,94.28 513.91,80.66 514.12,90.06 514.33,93.48 514.53,155.00 514.74,78.49 514.95,97.50 515.16,93.08 515.37,96.90 515.58,93.97 515.79,86.58 516.00,98.28 516.21,93.20 516.42,86.41 516.63,88.02 516.84,89.54 517.05,87.14 517.25,98.94 517.46,80.96 517.67,83.57 517.88,86.50 518.09,80.21 518.30,91.31 518.51,84.57 518.72,85.70 518.93,79.09 519.14,74.96 519.35,79.15 519.56,65.50 519.77,103.20 519.98,84.94 520.18,75.83 520.39,80.45 520.60,76.46 520.81,93.81 521.02,78.93 521.23,78.36 521.44,79.14 521.65,96.28 521.86,91.99 522.07,93.08 522.28,85.95 522.49,89.54 522.70,76.56 522.90,95.29 523.11,91.38 523.32,86.87 523.53,93.83 523.74,93.23 523.95,58.40 524.16,68.93 524.37,77.70 524.58,79.05 524.79,115.70 525.00,84.59 525.21,84.54 525.42,81.52 525.62,83.10 525.83,69.90 526.04,102.45 526.25,69.76 526.46,90.01 526.67,79.58 526.88,76.01 527.09,77.17 527.30,82.17 527.51,90.97 527.72,82.52 527.93,84.99 528.14,89.60 528.35,77.57 528.55,85.48 528.76,88.34 528.97,73.84 529.18,83.38 529.39,47.70 529.60,135.40 529.81,94.00 530.02,94.00 530.23,94.00 530.44,94.00 530.65,94.00 530.86,94.00 531.07,94.00 531.27,94.00 531.48,94.00 531.69,94.00 531.90,94.00 532.11,94.00 532.32,94.00 532.53,94.00 532.74,94.00 532.95,94.00 533.16,94.00 533.37,94.00 533.58,94.00 533.79,94.00 534.00,94.00 534.20,94.00 534.41,94.00 534.62,94.00 534.83,94.00 535.04,94.00 535.25,94.00 535.46,94.00 535.67,94.00 535.88,94.00" fill="none" stroke="#ff0000" stroke-width="0.8" stroke-linejoin="round"/></g>
<g style="filter:opacity(0.8)"><polyline points="337.30,40.39 535.88,40.39" fill="none" stroke="#7b3fa8" stroke-width="0.8" stroke-linejoin="round"/></g>
<g style="filter:opacity(0.8)"><polyline points="337.30,147.61 535.88,147.61" fill="none" stroke="#7b3fa8" stroke-width="0.8" stroke-linejoin="round"/></g>
<rect x="327.00" y="5.90" width="218.40" height="156.00" fill="none" stroke="#7a7a7a" stroke-width="1.3"/>
<line x1="337.30" y1="161.90" x2="337.30" y2="163.90" stroke="#7a7a7a" stroke-width="0.6"/>
<text x="337.30" y="170.70" text-anchor="middle" class="tk">0</text>
<line x1="379.15" y1="161.90" x2="379.15" y2="163.90" stroke="#7a7a7a" stroke-width="0.6"/>
<text x="379.15" y="170.70" text-anchor="middle" class="tk">200</text>
<line x1="421.00" y1="161.90" x2="421.00" y2="163.90" stroke="#7a7a7a" stroke-width="0.6"/>
<text x="421.00" y="170.70" text-anchor="middle" class="tk">400</text>
<line x1="462.85" y1="161.90" x2="462.85" y2="163.90" stroke="#7a7a7a" stroke-width="0.6"/>
<text x="462.85" y="170.70" text-anchor="middle" class="tk">600</text>
<line x1="504.70" y1="161.90" x2="504.70" y2="163.90" stroke="#7a7a7a" stroke-width="0.6"/>
<text x="504.70" y="170.70" text-anchor="middle" class="tk">800</text>
<line x1="325.00" y1="147.61" x2="327.00" y2="147.61" stroke="#7a7a7a" stroke-width="0.6"/>
<text x="323.10" y="149.61" text-anchor="end" class="tk">−60</text>
<line x1="325.00" y1="129.74" x2="327.00" y2="129.74" stroke="#7a7a7a" stroke-width="0.6"/>
<text x="323.10" y="131.74" text-anchor="end" class="tk">−40</text>
<line x1="325.00" y1="111.87" x2="327.00" y2="111.87" stroke="#7a7a7a" stroke-width="0.6"/>
<text x="323.10" y="113.87" text-anchor="end" class="tk">−20</text>
<line x1="325.00" y1="94.00" x2="327.00" y2="94.00" stroke="#7a7a7a" stroke-width="0.6"/>
<text x="323.10" y="96.00" text-anchor="end" class="tk">0</text>
<line x1="325.00" y1="76.13" x2="327.00" y2="76.13" stroke="#7a7a7a" stroke-width="0.6"/>
<text x="323.10" y="78.13" text-anchor="end" class="tk">20</text>
<line x1="325.00" y1="58.26" x2="327.00" y2="58.26" stroke="#7a7a7a" stroke-width="0.6"/>
<text x="323.10" y="60.26" text-anchor="end" class="tk">40</text>
<line x1="325.00" y1="40.39" x2="327.00" y2="40.39" stroke="#7a7a7a" stroke-width="0.6"/>
<text x="323.10" y="42.39" text-anchor="end" class="tk">60</text>
<line x1="325.00" y1="22.52" x2="327.00" y2="22.52" stroke="#7a7a7a" stroke-width="0.6"/>
<text x="323.10" y="24.52" text-anchor="end" class="tk">80</text>
<rect x="332.20" y="67.30" width="86.40" height="33.50" rx="1.5" fill="#ffffff" fill-opacity="0.8" stroke="#dcdcdc" stroke-width="0.6"/>
<line x1="336.30" y1="75.50" x2="357.40" y2="75.50" stroke="#ff0000" stroke-opacity="0.5" stroke-width="1.2"/>
<text x="365.40" y="79.00" class="lg" style="font-size:10.4px" textLength="27.60" lengthAdjust="spacingAndGlyphs">score</text>
<line x1="336.30" y1="90.50" x2="357.40" y2="90.50" stroke="#7b3fa8" stroke-opacity="0.8" stroke-width="1.2"/>
<text x="365.40" y="93.70" class="lg" style="font-size:10.4px" textLength="49.20" lengthAdjust="spacingAndGlyphs">threshold</text>
<line x1="33.80" y1="236.95" x2="33.80" y2="393.05" stroke="#d6d6d6" stroke-width="1.15"/>
<line x1="75.70" y1="236.95" x2="75.70" y2="393.05" stroke="#d6d6d6" stroke-width="1.15"/>
<line x1="117.60" y1="236.95" x2="117.60" y2="393.05" stroke="#d6d6d6" stroke-width="1.15"/>
<line x1="159.50" y1="236.95" x2="159.50" y2="393.05" stroke="#d6d6d6" stroke-width="1.15"/>
<line x1="201.40" y1="236.95" x2="201.40" y2="393.05" stroke="#d6d6d6" stroke-width="1.15"/>
<line x1="23.75" y1="386.10" x2="242.40" y2="386.10" stroke="#d6d6d6" stroke-width="1.15"/>
<line x1="23.75" y1="357.68" x2="242.40" y2="357.68" stroke="#d6d6d6" stroke-width="1.15"/>
<line x1="23.75" y1="329.26" x2="242.40" y2="329.26" stroke="#d6d6d6" stroke-width="1.15"/>
<line x1="23.75" y1="300.84" x2="242.40" y2="300.84" stroke="#d6d6d6" stroke-width="1.15"/>
<line x1="23.75" y1="272.42" x2="242.40" y2="272.42" stroke="#d6d6d6" stroke-width="1.15"/>
<line x1="23.75" y1="244.00" x2="242.40" y2="244.00" stroke="#d6d6d6" stroke-width="1.15"/>
<g style="filter:opacity(0.47)"><polyline points="33.80,386.10 38.41,386.10 38.41,244.00 38.62,244.00 38.62,386.10 93.72,386.10 93.72,244.00 93.93,244.00 93.93,386.10 102.52,386.10 102.52,244.00 102.73,244.00 102.73,386.10 149.23,386.10 149.23,244.00 149.44,244.00 149.44,386.10 190.09,386.10 190.09,244.00 190.30,244.00 190.30,386.10 232.62,386.10" fill="none" stroke="#008000" stroke-width="1.5" stroke-linejoin="round"/></g>
<rect x="23.75" y="236.95" width="218.65" height="156.10" fill="none" stroke="#7a7a7a" stroke-width="1.3"/>
<line x1="33.80" y1="393.05" x2="33.80" y2="395.05" stroke="#7a7a7a" stroke-width="0.6"/>
<text x="33.80" y="401.85" text-anchor="middle" class="tk">0</text>
<line x1="75.70" y1="393.05" x2="75.70" y2="395.05" stroke="#7a7a7a" stroke-width="0.6"/>
<text x="75.70" y="401.85" text-anchor="middle" class="tk">200</text>
<line x1="117.60" y1="393.05" x2="117.60" y2="395.05" stroke="#7a7a7a" stroke-width="0.6"/>
<text x="117.60" y="401.85" text-anchor="middle" class="tk">400</text>
<line x1="159.50" y1="393.05" x2="159.50" y2="395.05" stroke="#7a7a7a" stroke-width="0.6"/>
<text x="159.50" y="401.85" text-anchor="middle" class="tk">600</text>
<line x1="201.40" y1="393.05" x2="201.40" y2="395.05" stroke="#7a7a7a" stroke-width="0.6"/>
<text x="201.40" y="401.85" text-anchor="middle" class="tk">800</text>
<line x1="21.75" y1="386.10" x2="23.75" y2="386.10" stroke="#7a7a7a" stroke-width="0.6"/>
<text x="19.85" y="388.10" text-anchor="end" class="tk">0.0</text>
<line x1="21.75" y1="357.68" x2="23.75" y2="357.68" stroke="#7a7a7a" stroke-width="0.6"/>
<text x="19.85" y="359.68" text-anchor="end" class="tk">0.2</text>
<line x1="21.75" y1="329.26" x2="23.75" y2="329.26" stroke="#7a7a7a" stroke-width="0.6"/>
<text x="19.85" y="331.26" text-anchor="end" class="tk">0.4</text>
<line x1="21.75" y1="300.84" x2="23.75" y2="300.84" stroke="#7a7a7a" stroke-width="0.6"/>
<text x="19.85" y="302.84" text-anchor="end" class="tk">0.6</text>
<line x1="21.75" y1="272.42" x2="23.75" y2="272.42" stroke="#7a7a7a" stroke-width="0.6"/>
<text x="19.85" y="274.42" text-anchor="end" class="tk">0.8</text>
<line x1="21.75" y1="244.00" x2="23.75" y2="244.00" stroke="#7a7a7a" stroke-width="0.6"/>
<text x="19.85" y="246.00" text-anchor="end" class="tk">1.0</text>
<rect x="102.70" y="305.60" width="133.50" height="18.90" rx="1.5" fill="#ffffff" fill-opacity="0.8" stroke="#dcdcdc" stroke-width="0.6"/>
<line x1="106.00" y1="314.20" x2="127.60" y2="314.20" stroke="#008000" stroke-opacity="0.47" stroke-width="1.2"/>
<text x="135.50" y="317.30" class="lg" style="font-size:10.4px" textLength="97.00" lengthAdjust="spacingAndGlyphs">anomaly detection</text>
<line x1="337.40" y1="237.00" x2="337.40" y2="393.05" stroke="#d6d6d6" stroke-width="1.15"/>
<line x1="379.25" y1="237.00" x2="379.25" y2="393.05" stroke="#d6d6d6" stroke-width="1.15"/>
<line x1="421.10" y1="237.00" x2="421.10" y2="393.05" stroke="#d6d6d6" stroke-width="1.15"/>
<line x1="462.95" y1="237.00" x2="462.95" y2="393.05" stroke="#d6d6d6" stroke-width="1.15"/>
<line x1="504.80" y1="237.00" x2="504.80" y2="393.05" stroke="#d6d6d6" stroke-width="1.15"/>
<line x1="327.00" y1="386.10" x2="545.40" y2="386.10" stroke="#d6d6d6" stroke-width="1.15"/>
<line x1="327.00" y1="357.68" x2="545.40" y2="357.68" stroke="#d6d6d6" stroke-width="1.15"/>
<line x1="327.00" y1="329.26" x2="545.40" y2="329.26" stroke="#d6d6d6" stroke-width="1.15"/>
<line x1="327.00" y1="300.84" x2="545.40" y2="300.84" stroke="#d6d6d6" stroke-width="1.15"/>
<line x1="327.00" y1="272.42" x2="545.40" y2="272.42" stroke="#d6d6d6" stroke-width="1.15"/>
<line x1="327.00" y1="244.00" x2="545.40" y2="244.00" stroke="#d6d6d6" stroke-width="1.15"/>
<g style="filter:opacity(0.5)"><polyline points="337.40,386.10 341.79,386.10 341.79,244.00 342.00,244.00 342.00,386.10 397.04,386.10 397.04,244.00 397.25,244.00 397.25,386.10 406.03,386.10 406.03,244.00 406.24,244.00 406.24,386.10 452.49,386.10 452.49,244.00 452.70,244.00 452.70,386.10 493.50,386.10 493.50,244.00 493.71,244.00 493.71,386.10 535.98,386.10" fill="none" stroke="#a52a2a" stroke-width="1.5" stroke-linejoin="round"/></g>
<rect x="327.00" y="237.00" width="218.40" height="156.05" fill="none" stroke="#7a7a7a" stroke-width="1.3"/>
<line x1="337.40" y1="393.05" x2="337.40" y2="395.05" stroke="#7a7a7a" stroke-width="0.6"/>
<text x="337.40" y="401.85" text-anchor="middle" class="tk">0</text>
<line x1="379.25" y1="393.05" x2="379.25" y2="395.05" stroke="#7a7a7a" stroke-width="0.6"/>
<text x="379.25" y="401.85" text-anchor="middle" class="tk">200</text>
<line x1="421.10" y1="393.05" x2="421.10" y2="395.05" stroke="#7a7a7a" stroke-width="0.6"/>
<text x="421.10" y="401.85" text-anchor="middle" class="tk">400</text>
<line x1="462.95" y1="393.05" x2="462.95" y2="395.05" stroke="#7a7a7a" stroke-width="0.6"/>
<text x="462.95" y="401.85" text-anchor="middle" class="tk">600</text>
<line x1="504.80" y1="393.05" x2="504.80" y2="395.05" stroke="#7a7a7a" stroke-width="0.6"/>
<text x="504.80" y="401.85" text-anchor="middle" class="tk">800</text>
<line x1="325.00" y1="386.10" x2="327.00" y2="386.10" stroke="#7a7a7a" stroke-width="0.6"/>
<text x="323.10" y="388.10" text-anchor="end" class="tk">0.0</text>
<line x1="325.00" y1="357.68" x2="327.00" y2="357.68" stroke="#7a7a7a" stroke-width="0.6"/>
<text x="323.10" y="359.68" text-anchor="end" class="tk">0.2</text>
<line x1="325.00" y1="329.26" x2="327.00" y2="329.26" stroke="#7a7a7a" stroke-width="0.6"/>
<text x="323.10" y="331.26" text-anchor="end" class="tk">0.4</text>
<line x1="325.00" y1="300.84" x2="327.00" y2="300.84" stroke="#7a7a7a" stroke-width="0.6"/>
<text x="323.10" y="302.84" text-anchor="end" class="tk">0.6</text>
<line x1="325.00" y1="272.42" x2="327.00" y2="272.42" stroke="#7a7a7a" stroke-width="0.6"/>
<text x="323.10" y="274.42" text-anchor="end" class="tk">0.8</text>
<line x1="325.00" y1="244.00" x2="327.00" y2="244.00" stroke="#7a7a7a" stroke-width="0.6"/>
<text x="323.10" y="246.00" text-anchor="end" class="tk">1.0</text>
<rect x="429.50" y="305.80" width="110.00" height="18.60" rx="1.5" fill="#ffffff" fill-opacity="0.8" stroke="#dcdcdc" stroke-width="0.6"/>
<line x1="432.80" y1="314.20" x2="454.30" y2="314.20" stroke="#a52a2a" stroke-opacity="0.5" stroke-width="1.2"/>
<text x="462.30" y="317.20" class="lg" style="font-size:10.4px" textLength="74.00" lengthAdjust="spacingAndGlyphs">anomaly label</text>
<text x="140.00" y="205.50" text-anchor="middle" class="cap">(<tspan font-weight="bold">a</tspan>)</text>
<text x="432.50" y="205.50" text-anchor="middle" class="cap">(<tspan font-weight="bold">b</tspan>)</text>
<text x="140.20" y="436.80" text-anchor="middle" class="cap">(<tspan font-weight="bold">c</tspan>)</text>
<text x="432.40" y="436.80" text-anchor="middle" class="cap">(<tspan font-weight="bold">d</tspan>)</text>
</svg>
</body></html>
